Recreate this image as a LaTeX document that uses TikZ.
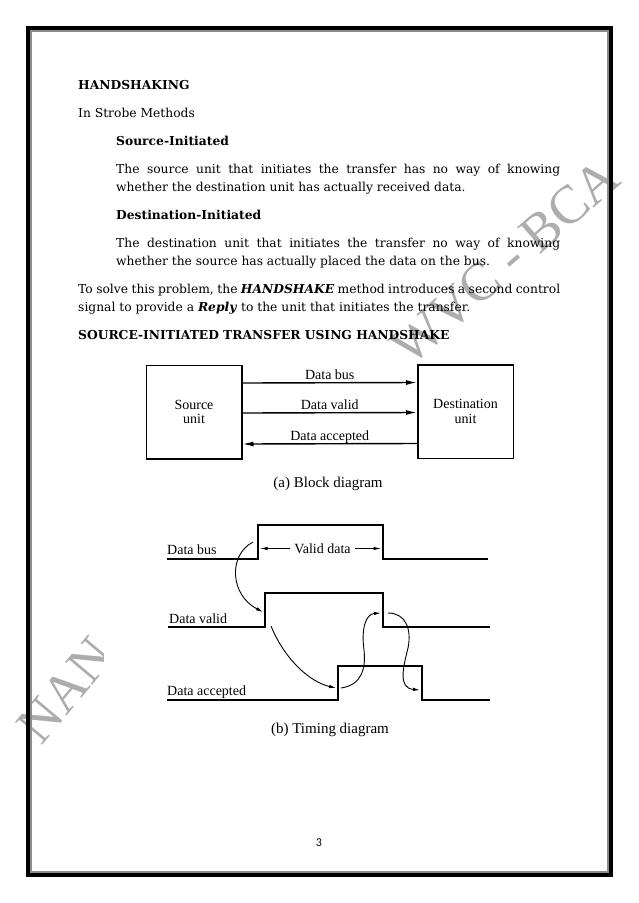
\documentclass[tikz,border=0pt]{standalone}
\usepackage{fontspec}
\setmainfont{DejaVu Serif}
\newfontfamily\diagfont{Liberation Serif}
\newfontfamily\pgfont{Carlito}
\usetikzlibrary{arrows.meta}
\newcommand\bodyfont{\fontsize{12.3}{18}\selectfont}
\newcommand\dfont{\diagfont\fontsize{14}{14.5}\selectfont}
\newcommand\capfont{\diagfont\fontsize{15}{16}\selectfont}
\begin{document}
\begin{tikzpicture}[x=1pt,y=-1pt,
  body/.style={anchor=base west, inner sep=0pt, font=\bodyfont},
  wmark/.style={text=black!32, font=\diagfont\fontsize{54}{54}\selectfont, inner sep=0pt},
  unitbox/.style={draw, line width=1.5pt, minimum width=95.5pt, minimum height=93.5pt, align=center, font=\dfont, inner sep=0pt},
  blk/.style={line width=1.4pt, -{Latex[length=11pt,width=5pt]}},
  lbl/.style={font=\dfont, anchor=base, inner sep=0pt},
  wave/.style={line width=2.8pt, line join=miter},
  dim/.style={line width=1pt, -{Latex[length=8pt,width=3.5pt]}},
  curv/.style={line width=0.9pt, -{Latex[length=7pt,width=3.5pt]}},
  tlbl/.style={font=\dfont, anchor=base west, inner sep=0pt},
  capt/.style={font=\capfont, anchor=base, inner sep=0pt}
]
\useasboundingbox (0,0) rectangle (638,903);
\fill[white] (0,0) rectangle (638,903);

% watermark
\begin{scope}
  \clip (0,600) rectangle (103,800);
  \node[wmark, rotate=50] (wmA) at (65,690) {NAN};
\end{scope}
\node[wmark, rotate=41] (wmB) at (505,262) {WVC - BCA};

% frame
\draw[line width=3.5pt] (27.75,28) rectangle (610.75,874.85);
\draw[black!45, line width=2pt] (30.5,31) rectangle (608,872);

% body text
\node[body] (t1) at (78,89.5) {\textbf{HANDSHAKING}};
\node[body] (t2) at (78,117.5) {In Strobe Methods};
\node[body] (t3) at (116,145.5) {\textbf{Source-Initiated}};
\node[body] (t4) at (116,173.5) {\makebox[444pt][s]{The source unit that initiates the transfer has no way of knowing}};
\node[body] (t5) at (116,191.5) {whether the destination unit has actually received data.};
\node[body] (t6) at (116,219.5) {\textbf{Destination-Initiated}};
\node[body] (t7) at (116,247.5) {\makebox[444pt][s]{The destination unit that initiates the transfer no way of knowing}};
\node[body] (t8) at (116,265.5) {whether the source has actually placed the data on the bus.};
\node[body] (t9) at (78,293.5) {\makebox[482pt][s]{To solve this problem, the \textbf{\textit{HANDSHAKE}} method introduces a second control}};
\node[body] (t10) at (78,311.5) {signal to provide a \textbf{\textit{Reply}} to the unit that initiates the transfer.};
\node[body] (t11) at (78,339.5) {\textbf{SOURCE-INITIATED TRANSFER USING HANDSHAKE}};

% block diagram
\node[unitbox] (src) at (194,412) {Source\\unit};
\node[unitbox] (dst) at (465.5,411.5) {Destination\\unit};
\draw[blk] ([yshift=29pt]src.east) -- ([yshift=29pt]dst.west)
  node[lbl, pos=0.5, yshift=3.5pt] (lbus) {Data bus};
\draw[blk] ([yshift=-1pt]src.east) -- ([yshift=-1pt]dst.west)
  node[lbl, pos=0.5, yshift=3.5pt] (lvalid) {Data valid};
\draw[blk] ([yshift=-32pt]dst.west) -- ([yshift=-32pt]src.east)
  node[lbl, pos=0.5, yshift=3.5pt] (lacc) {Data accepted};
\node[capt] (capa) at (328,487) {(a) Block diagram};

% timing diagram
\draw[wave] (167,559) -- (258,559) -- (258,525) -- (383,525) -- (383,559) -- (488,559);
\draw[wave] (168,627) -- (265,627) -- (265,593) -- (383,593) -- (383,627) -- (490,627);
\draw[wave] (167,700) -- (338,700) -- (338,666) -- (422,666) -- (422,700) -- (490,700);

\node[tlbl] (tbus) at (167,554) {Data bus};
\node[tlbl] (tvalid) at (169,623) {Data valid};
\node[tlbl] (tacc) at (167,695) {Data accepted};

\node[font=\dfont, inner sep=4pt] (vd) at (322.5,548.5) {Valid data};
\coordinate (busup) at (259.5,548.5);
\coordinate (busdn) at (381.5,548.5);
\draw[dim] (vd.west) -- (busup);
\draw[dim] (vd.east) -- (busdn);

\coordinate (a1) at (253,542);
\coordinate (a2) at (263,612);
\coordinate (b1) at (271,626);
\coordinate (b2) at (336,688);
\coordinate (c1) at (341,688);
\coordinate (c2) at (381,613);
\coordinate (d1) at (388,613);
\coordinate (d2) at (420,690);
\draw[curv] (a1) .. controls (228,555) and (230,595) .. (a2);
\draw[curv] (b1) .. controls (285,660) and (310,682) .. (b2);
\draw[curv] (c1) .. controls (362,685) and (366,668) .. (364,650) .. controls (361,628) and (366,614) .. (c2);
\draw[curv] (d1) .. controls (405,613) and (412,628) .. (408,648) .. controls (403,668) and (398,688) .. (d2);

\node[capt] (capb) at (330,733) {(b) Timing diagram};

% page number
\node[font=\pgfont\fontsize{12}{14}\selectfont, inner sep=0pt] (pg) at (319,843) {3};
\end{tikzpicture}
\end{document}
